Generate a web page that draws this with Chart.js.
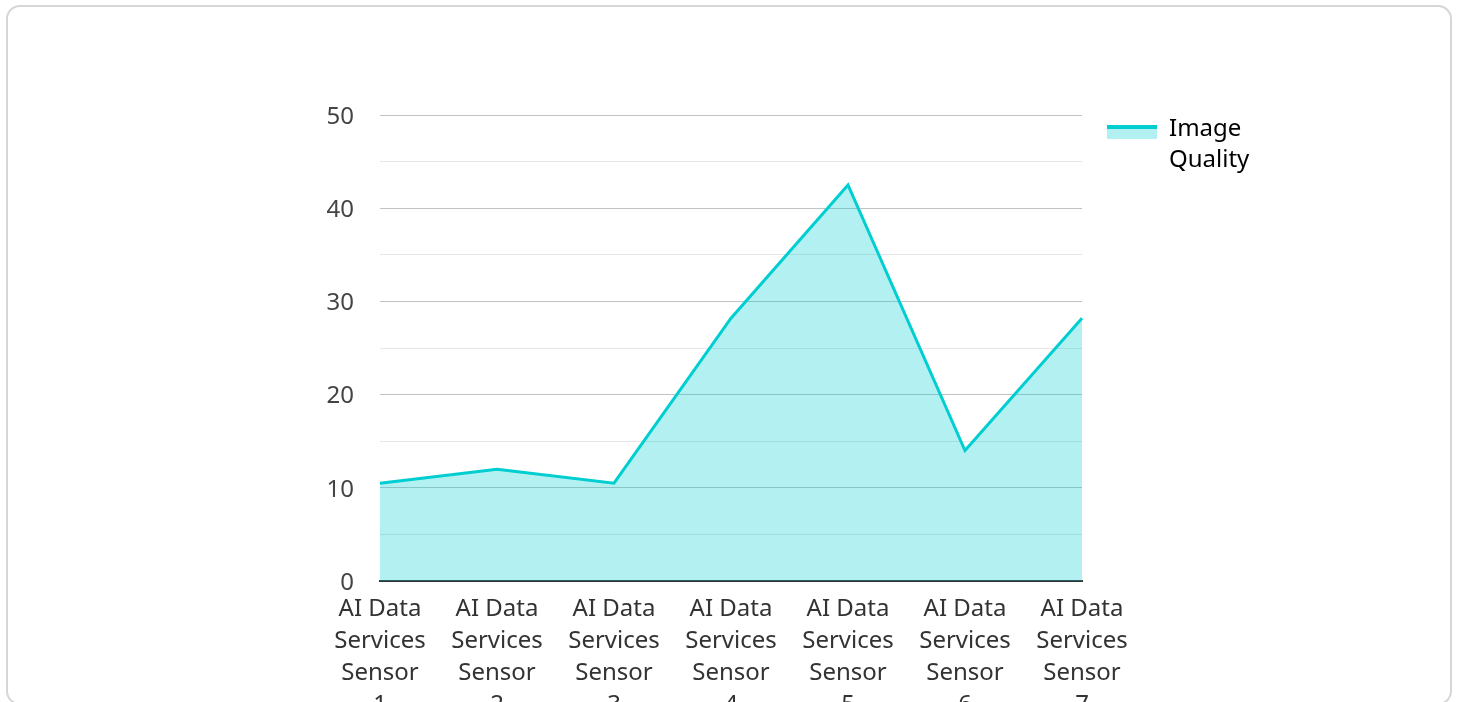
<!DOCTYPE html>
<html>
<head>
<meta charset="utf-8">
<title>Image Quality</title>
<script src="https://cdn.jsdelivr.net/npm/chart.js@4.4.1/dist/chart.umd.min.js"></script>
<style>
  html, body { margin: 0; padding: 0; background: #fff; overflow: hidden; }
  .card {
    position: absolute; left: 6px; top: 5px;
    width: 1442px; height: 696px;
    border: 2px solid #d6d6d6; border-radius: 14px;
    overflow: hidden; background: #fff;
  }
  .plot { position: absolute; left: 0; top: 0; width: 1442px; height: 740px; }
</style>
</head>
<body>
<div class="card">
  <div class="plot"><canvas id="chart"></canvas></div>
</div>
<script>
// data
const categories = [
  "AI Data Services Sensor 1",
  "AI Data Services Sensor 2",
  "AI Data Services Sensor 3",
  "AI Data Services Sensor 4",
  "AI Data Services Sensor 5",
  "AI Data Services Sensor 6",
  "AI Data Services Sensor 7",
];
const seriesName = "Image Quality";
const imageQuality = [10.5, 12.0, 10.5, 28.2, 42.5, 14.0, 28.2];
const yMin = 0;
const yMax = 50;
const yStep = 5;        // minor grid every 5, labels every 10
const yLabelEvery = 10;

const lineColor = "#00ced1";
const fillColor = "rgba(0, 206, 209, 0.3)";
const fontFamily = "'Noto Sans', 'Open Sans', sans-serif";

// greedy word wrap, like the original's narrow labels
function wrap(text, maxChars) {
  const lines = [];
  let cur = "";
  for (const w of text.split(" ")) {
    if (cur && (cur + " " + w).length > maxChars) {
      lines.push(cur);
      cur = w;
    } else {
      cur = cur ? cur + " " + w : w;
    }
  }
  if (cur) lines.push(cur);
  return lines;
}

// legend: nudge right, then paint the swatch (area fill with a line on top)
const legendStyle = {
  id: "legendStyle",
  afterLayout(chart) {
    chart.legend.left += 23;
    chart.legend.right += 23;
  },
  afterDraw(chart) {
    const lg = chart.legend;
    if (!lg || !lg.legendHitBoxes.length) return;
    const ctx = chart.ctx;
    ctx.save();
    lg.legendHitBoxes.forEach((hb, i) => {
      const ds = chart.data.datasets[i];
      ctx.fillStyle = ds.backgroundColor;
      ctx.fillRect(hb.left, hb.top + 8, 50, 14);
      ctx.fillStyle = ds.borderColor;
      ctx.fillRect(hb.left, hb.top + 8, 50, 4);
    });
    ctx.restore();
  },
};

new Chart(document.getElementById("chart"), {
  type: "line",
  data: {
    labels: categories.map((c) => wrap(c, 7)),
    datasets: [
      {
        label: seriesName,
        data: imageQuality,
        borderColor: lineColor,
        backgroundColor: fillColor,
        borderWidth: 3,
        fill: "origin",
        tension: 0,
        pointRadius: 0,
        pointHoverRadius: 0,
      },
    ],
  },
  options: {
    responsive: true,
    maintainAspectRatio: false,
    animation: false,
    layout: { padding: { left: 312, top: 108, right: 218, bottom: 26 } },
    plugins: {
      tooltip: { enabled: false },
      legend: {
        position: "right",
        align: "start",
        maxWidth: 150,
        labels: {
          boxWidth: 50,
          boxHeight: 14,
          padding: 2,
          color: "#333",
          font: { family: fontFamily, size: 24, lineHeight: 1.3 },
          generateLabels: (chart) =>
            chart.data.datasets.map((ds, i) => ({
              text: wrap(ds.label, 7),
              fillStyle: "rgba(0,0,0,0)",
              strokeStyle: "rgba(0,0,0,0)",
              lineWidth: 0,
              hidden: false,
              datasetIndex: i,
            })),
        },
      },
    },
    scales: {
      x: {
        z: 1, // axis line over the area fill
        afterFit: (s) => { s.height = 140; },
        grid: { display: false, drawTicks: false },
        border: { display: true, color: "#333", width: 2 },
        ticks: {
          autoSkip: false,
          maxRotation: 0,
          padding: 12,
          color: "#333",
          font: { family: fontFamily, size: 24, lineHeight: 1.3333 },
        },
      },
      y: {
        min: yMin,
        max: yMax,
        afterFit: (s) => { s.width = 60; },
        border: { display: false },
        grid: {
          drawTicks: false,
          lineWidth: 1,
          color: (ctx) => (ctx.tick && ctx.tick.value % yLabelEvery === 0 ? "#c2c2c2" : "#e6e6e6"),
        },
        ticks: {
          stepSize: yStep,
          padding: 26,
          labelOffset: 2,
          color: "#444",
          font: { family: fontFamily, size: 24 },
          callback: (v) => (v % yLabelEvery === 0 ? v : ""),
        },
      },
    },
  },
  plugins: [legendStyle],
});
</script>
</body>
</html>
